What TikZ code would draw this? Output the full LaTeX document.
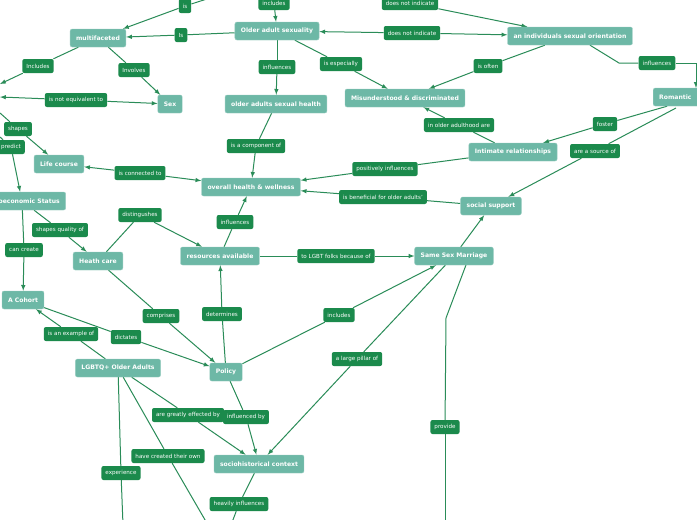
\documentclass[tikz,border=0pt]{standalone}
\usepackage{fontspec}
\setmainfont{DejaVu Sans}
\usetikzlibrary{backgrounds}
\definecolor{nodefill}{HTML}{6DB8A6}
\definecolor{labfill}{HTML}{1B8A4C}
\definecolor{linec}{HTML}{2A8C58}
\tikzset{
 cnode/.style={fill=nodefill,draw=nodefill!70!white,rounded corners=2pt,text=white,font=\fontsize{6.1}{7}\selectfont\bfseries,minimum height=18pt,inner xsep=6pt},
 lab/.style={fill=labfill,rounded corners=2pt,text=white,font=\fontsize{5.6}{6.5}\selectfont,minimum height=14pt,inner xsep=4pt},
 conn/.style={draw=linec,line width=1pt},
 arr/.style={conn,-latex},
}
\begin{document}
\begin{tikzpicture}[x=1pt,y=-1pt]
\useasboundingbox (0,0) rectangle (697,520);
\clip (0,0) rectangle (697,520);
% concept nodes
\node[cnode] (mult) at (98,38) {multifaceted};
\node[cnode] (oas) at (277,31) {Older adult sexuality};
\node[cnode] (iso) at (570,36) {an individuals sexual orientation};
\node[cnode,anchor=west,text width=80pt,align=left] (rom) at (653,97) {Romantic};
\node[cnode] (sex) at (170,104) {Sex};
\node[cnode] (sh) at (276,104) {older adults sexual health};
\node[cnode] (mis) at (405,98) {Misunderstood \& discriminated};
\node[cnode] (life) at (59,164) {Life course};
\node[cnode] (ohw) at (251,187) {overall health \& wellness};
\node[cnode] (ir) at (513,152) {Intimate relationships};
\node[cnode] (ss) at (491,206) {social support};
\node[cnode] (ses) at (22,201) {Socioeconomic Status};
\node[cnode] (hc) at (98,261) {Heath care};
\node[cnode] (res) at (220,256) {resources available};
\node[cnode] (ssm) at (454,256) {Same Sex Marriage};
\node[cnode] (coh) at (23,300) {A Cohort};
\node[cnode] (lgbt) at (118,368) {LGBTQ+ Older Adults};
\node[cnode] (pol) at (226,372) {Policy};
\node[cnode] (soc) at (259,464) {sociohistorical context};
\coordinate (offA) at (0,84);
\coordinate (offB) at (0,97);
\coordinate (offC) at (0,113);
\coordinate (offD) at (0,137);
\coordinate (topIs) at (210,-2);
\coordinate (topInc) at (276,-5);
\coordinate (topDni) at (380,-5);
\coordinate (bProv) at (445,525);
\coordinate (bHave) at (208,525);
\coordinate (bExp) at (123,525);
\coordinate (bHeav) at (231,525);
% labels
\node[lab] (l1) at (185,6) {is};
\node[lab] (l2) at (274,3) {includes};
\node[lab] (l3) at (410,3) {does not indicate};
\node[lab] (l4) at (181,35) {Is};
\node[lab] (l5) at (412,33) {does not indicate};
\node[lab] (l6) at (38,66) {Includes};
\node[lab] (l7) at (134,70) {Involves};
\node[lab] (l8) at (76,100) {is not equivalent to};
\node[lab] (l9) at (277,67) {influences};
\node[lab] (l10) at (341,64) {is especially};
\node[lab] (l11) at (488,66) {is often};
\node[lab] (l12) at (657,63) {influences};
\node[lab] (l13) at (256,146) {is a component of};
\node[lab] (l14) at (18,129) {shapes};
\node[lab,anchor=east] (l15) at (25,147) {predict};
\node[lab] (l16) at (140,173) {is connected to};
\node[lab] (l17) at (385,169) {positively influences};
\node[lab] (l18) at (383,197) {is beneficial for older adults'};
\node[lab] (l19) at (459,125) {in older adulthood are};
\node[lab] (l20) at (605,124) {foster};
\node[lab] (l21) at (595,151) {are a source of};
\node[lab] (l22) at (140,215) {distingushes};
\node[lab] (l23) at (60,230) {shapes quality of};
\node[lab] (l24) at (24,250) {can create};
\node[lab] (l25) at (235,222) {influences};
\node[lab] (l26) at (336,256) {to LGBT folks because of};
\node[lab] (l27) at (445,427) {provide};
\node[lab] (l28) at (161,316) {comprises};
\node[lab] (l29) at (222,314) {determines};
\node[lab] (l30) at (339,315) {includes};
\node[lab] (l31) at (71,334) {is an example of};
\node[lab] (l32) at (126,337) {dictates};
\node[lab] (l33) at (357,359) {a large pillar of};
\node[lab] (l35) at (246,417) {influenced by};
\node[lab] (l34) at (188,415) {are greatly effected by};
\node[lab] (l36) at (168,456) {have created their own};
\node[lab] (l37) at (121,473) {experience};
\node[lab] (l38) at (239,504) {heavily influences};
\begin{scope}[on background layer]
\fill[white] (0,0) rectangle (697,520);
\draw[conn] (topIs) -- (l1); \draw[arr] (l1) -- (mult);
\draw[conn] (topInc) -- (l2); \draw[arr] (l2) -- (oas);
\draw[conn] (topDni) -- (l3); \draw[arr] (l3) -- ([xshift=20pt]iso.north west);
\draw[conn] (oas) -- (l4); \draw[arr] (l4) -- (mult);
\draw[arr] (l5) -- (oas); \draw[arr] (l5) -- (iso);
\draw[conn] (mult) -- (l6); \draw[arr] (l6) -- (offA);
\draw[conn] (mult) -- (l7); \draw[arr] (l7) -- (sex);
\draw[arr] (l8) -- (offB); \draw[arr] (l8) -- (sex);
\draw[conn] (oas) -- (l9); \draw[arr] (l9) -- (sh);
\draw[conn] (oas) -- (l10); \draw[arr] (l10) -- (mis);
\draw[conn] (iso) -- (l11); \draw[arr] (l11) -- (mis);
\draw[conn] ([xshift=20pt]iso.south) -- (619,63) -- (l12.west); \draw[arr] (l12.east) -| (696,88);
\draw[conn] (sh) -- (l13); \draw[arr] (l13) -- (ohw);
\draw[conn] (offC) -- (l14); \draw[arr] (l14) -- (life);
\draw[conn] (offD) -- (l15); \draw[arr] (l15) -- (ses);
\draw[arr] (l16) -- (life); \draw[arr] (l16) -- (ohw);
\draw[conn] (ir) -- (l17); \draw[arr] (l17) -- (ohw);
\draw[conn] (ss) -- (l18); \draw[arr] (l18) -- (ohw);
\draw[conn] (ir) -- (l19); \draw[arr] (l19) -- (mis);
\draw[conn] (rom) -- (l20); \draw[arr] (l20) -- (ir);
\draw[conn] (676,108) -- (l21); \draw[arr] (l21) -- (ss);
\draw[conn] (hc) -- (l22); \draw[arr] (l22) -- (res);
\draw[conn] (ses) -- (l23); \draw[arr] (l23) -- (hc);
\draw[conn] (ses) -- (l24); \draw[arr] (l24) -- (coh);
\draw[conn] (res) -- (l25); \draw[arr] (l25) -- (ohw);
\draw[conn] (res) -- (l26); \draw[arr] (l26) -- (ssm);
\draw[arr] (ssm) -- (ss);
\draw[conn] (466,265) -- (446,318) -- (l27); \draw[conn] (l27) -- (bProv);
\draw[conn] (hc) -- (l28); \draw[arr] (l28) -- (pol);
\draw[conn] (pol) -- (l29); \draw[arr] (l29) -- (res);
\draw[conn] (pol) -- (l30); \draw[arr] (l30) -- (ssm);
\draw[conn] (lgbt) -- (l31); \draw[arr] (l31) -- (coh);
\draw[conn] (coh) -- (l32); \draw[arr] (l32) -- (pol);
\draw[conn] (ssm) -- (l33); \draw[arr] (l33) -- (soc);
\draw[conn] (lgbt) -- (l34); \draw[arr] (l34) -- (soc);
\draw[conn] (pol) -- (l35); \draw[arr] (l35) -- (soc);
\draw[conn] (lgbt) -- (l36); \draw[conn] (l36) -- (bHave);
\draw[conn] (lgbt) -- (l37); \draw[conn] (l37) -- (bExp);
\draw[conn] (soc) -- (l38); \draw[conn] (l38) -- (bHeav);
\end{scope}
\end{tikzpicture}
\end{document}
